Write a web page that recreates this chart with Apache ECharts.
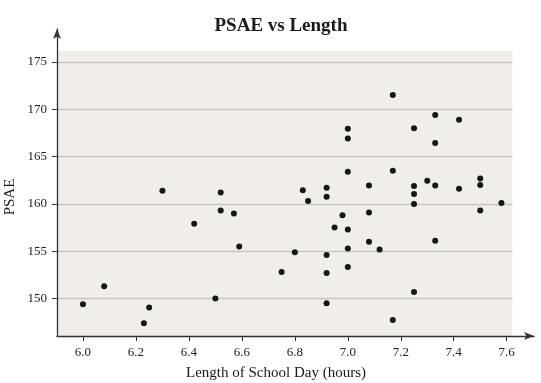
<!DOCTYPE html>
<html>
<head>
<meta charset="utf-8">
<script src="https://cdn.jsdelivr.net/npm/echarts@6/dist/echarts.min.js"></script>
<style>html,body{margin:0;padding:0;background:#fff;}#chart{width:541px;height:383px;}</style>
</head>
<body>
<div id="chart"></div>
<script>
// Data
const lengthHours = [6.00, 6.08, 6.23, 6.25, 6.30, 6.42, 6.50, 6.52, 6.52, 6.57,
  6.59, 6.75, 6.80, 6.83, 6.85, 6.92, 6.92, 6.92, 6.92, 6.92,
  6.95, 6.98, 7.00, 7.00, 7.00, 7.00, 7.00, 7.00, 7.08, 7.08,
  7.08, 7.12, 7.17, 7.17, 7.17, 7.25, 7.25, 7.25, 7.25, 7.25,
  7.30, 7.33, 7.33, 7.33, 7.33, 7.42, 7.42, 7.50, 7.50, 7.50, 7.58];
const psae = [149.4, 151.3, 147.4, 149.05, 161.4, 157.9, 150.0, 161.2, 159.3, 159.0,
  155.5, 152.8, 154.9, 161.45, 160.3, 161.7, 160.75, 154.6, 152.7, 149.5,
  157.5, 158.8, 167.95, 166.9, 163.4, 157.3, 155.3, 153.35, 161.95, 159.1,
  156.0, 155.2, 171.5, 163.5, 147.75, 168.0, 161.9, 161.05, 160.0, 150.7,
  162.45, 169.4, 166.45, 161.95, 156.1, 168.9, 161.6, 162.7, 162.0, 159.3, 160.1];
const xTicks = [6.0, 6.2, 6.4, 6.6, 6.8, 7.0, 7.2, 7.4, 7.6];
const yTicks = [150, 155, 160, 165, 170, 175];

const xMin = 5.902, xMax = 7.703, xPlotMax = 7.621;
const yMin = 146.05, yMax = 178.48, yPlotMax = 176.16;

const chart = echarts.init(document.getElementById('chart'));
const serif = '"Liberation Serif", "DejaVu Serif", serif';
const axisColor = '#333333';

chart.setOption({
  animation: false,
  backgroundColor: '#ffffff',
  title: {
    text: 'PSAE vs Length',
    left: 276, top: 12, textAlign: 'center',
    textStyle: { fontFamily: serif, fontWeight: 'bold', fontSize: 19, color: '#1a1a1a' }
  },
  grid: { left: 57, right: 7, top: 29, bottom: 47 },
  xAxis: {
    type: 'value', min: xMin, max: xMax, z: 10,
    axisLine: { show: true, symbol: ['none', 'arrow'], symbolSize: [6, 10],
      lineStyle: { color: axisColor, width: 1.3 } },
    axisTick: { show: true, length: 5, customValues: xTicks, lineStyle: { color: axisColor } },
    axisLabel: { customValues: xTicks, margin: 10, formatter: v => v.toFixed(1),
      fontFamily: serif, fontSize: 13, color: '#222' },
    splitLine: { show: false }
  },
  yAxis: {
    type: 'value', min: yMin, max: yMax, z: 10,
    axisLine: { show: true, symbol: ['none', 'arrow'], symbolSize: [6, 10],
      lineStyle: { color: axisColor, width: 1.3 } },
    axisTick: { show: true, length: 5, customValues: yTicks, lineStyle: { color: axisColor } },
    axisLabel: { customValues: yTicks, margin: 10, fontFamily: serif, fontSize: 13, color: '#222' },
    splitLine: { show: false }
  },
  graphic: [
    { type: 'text', x: 276, y: 366, style: { text: 'Length of School Day (hours)', font: '15px ' + serif, fill: '#1a1a1a', textAlign: 'center' } },
    { type: 'text', x: 3, y: 197, rotation: Math.PI / 2,
      style: { text: 'PSAE', font: '15px ' + serif, fill: '#1a1a1a', textAlign: 'center', textVerticalAlign: 'top' } }
  ],
  series: [
    {
      type: 'line', data: [], z: 1, silent: true,
      markArea: { silent: true, itemStyle: { color: '#f1eee9' },
        data: [[{ coord: [xMin, yMin] }, { coord: [xPlotMax, yPlotMax] }]] },
      markLine: { silent: true, symbol: 'none', label: { show: false },
        lineStyle: { color: '#c9c6c1', width: 1.4, type: 'solid' },
        data: yTicks.map(v => [{ coord: [xMin, v] }, { coord: [xPlotMax, v] }]) }
    },
    {
      type: 'scatter', z: 5, symbolSize: 6,
      itemStyle: { color: '#161616', opacity: 1 },
      data: lengthHours.map((x, i) => [x, psae[i]])
    }
  ]
});
</script>
</body>
</html>
